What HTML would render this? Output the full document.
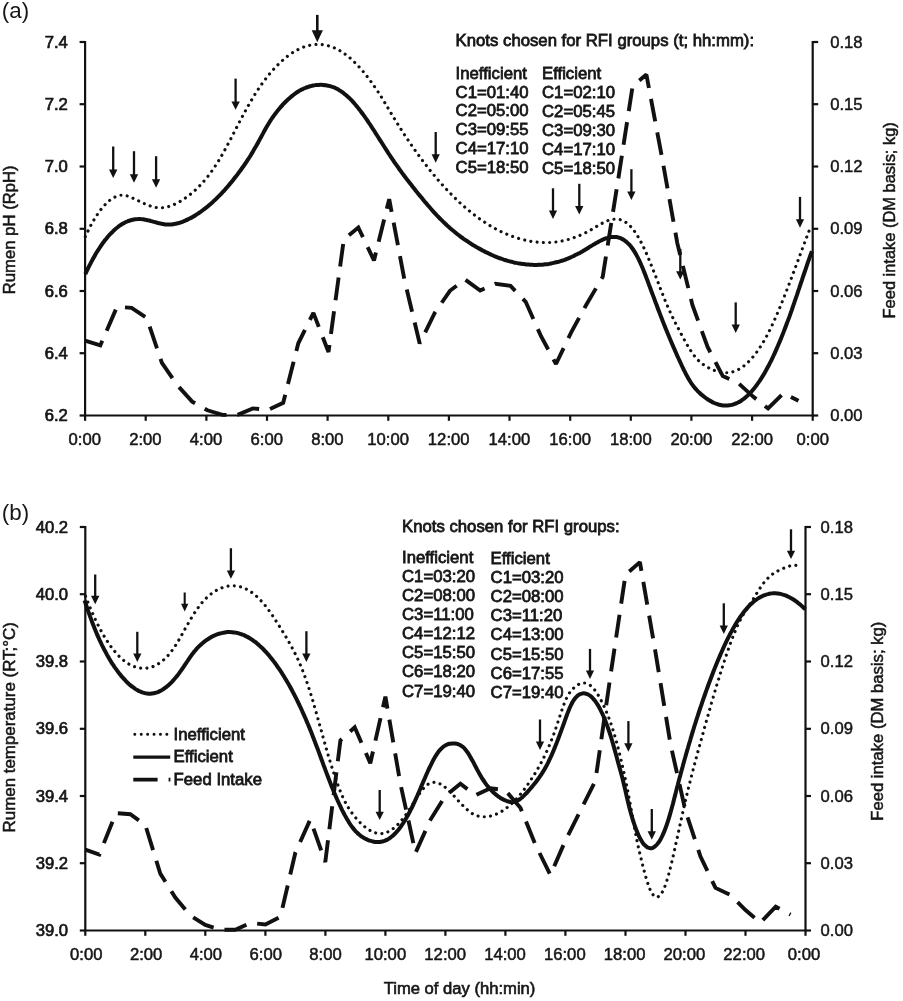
<!DOCTYPE html>
<html lang="en"><head><meta charset="utf-8"><title>Rumen pH and temperature by RFI group</title>
<style>html,body{margin:0;padding:0;background:#fff}svg{display:block;filter:blur(0.35px)}</style></head>
<body>
<svg width="903" height="1001" viewBox="0 0 903 1001">
<rect width="903" height="1001" fill="#fff"/>
<g font-family="'Liberation Sans', Arial, Helvetica, sans-serif" font-size="16" fill="#161616">
<g stroke="#111" stroke-width="2.2" fill="none"><path d="M85.1 40.9 V415.5 H812.7 V40.9"/><path d="M79.6 42.0 H85.1"/><path d="M812.7 42.0 H818.2"/><path d="M79.6 104.2 H85.1"/><path d="M812.7 104.2 H818.2"/><path d="M79.6 166.5 H85.1"/><path d="M812.7 166.5 H818.2"/><path d="M79.6 228.8 H85.1"/><path d="M812.7 228.8 H818.2"/><path d="M79.6 291.0 H85.1"/><path d="M812.7 291.0 H818.2"/><path d="M79.6 353.2 H85.1"/><path d="M812.7 353.2 H818.2"/><path d="M79.6 415.5 H85.1"/><path d="M812.7 415.5 H818.2"/><path d="M85.1 415.5 V420.8"/><path d="M145.7 415.5 V420.8"/><path d="M206.4 415.5 V420.8"/><path d="M267.0 415.5 V420.8"/><path d="M327.6 415.5 V420.8"/><path d="M388.3 415.5 V420.8"/><path d="M448.9 415.5 V420.8"/><path d="M509.5 415.5 V420.8"/><path d="M570.2 415.5 V420.8"/><path d="M630.8 415.5 V420.8"/><path d="M691.4 415.5 V420.8"/><path d="M752.1 415.5 V420.8"/><path d="M812.7 415.5 V420.8"/></g>
<g stroke="#111" stroke-width="2.2" fill="none"><path d="M85.3 525.9 V930.5 H805.5 V525.9"/><path d="M79.8 527.0 H85.3"/><path d="M805.5 527.0 H811.0"/><path d="M79.8 594.2 H85.3"/><path d="M805.5 594.2 H811.0"/><path d="M79.8 661.5 H85.3"/><path d="M805.5 661.5 H811.0"/><path d="M79.8 728.8 H85.3"/><path d="M805.5 728.8 H811.0"/><path d="M79.8 796.0 H85.3"/><path d="M805.5 796.0 H811.0"/><path d="M79.8 863.2 H85.3"/><path d="M805.5 863.2 H811.0"/><path d="M79.8 930.5 H85.3"/><path d="M805.5 930.5 H811.0"/><path d="M85.3 930.5 V935.8"/><path d="M145.3 930.5 V935.8"/><path d="M205.3 930.5 V935.8"/><path d="M265.4 930.5 V935.8"/><path d="M325.4 930.5 V935.8"/><path d="M385.4 930.5 V935.8"/><path d="M445.4 930.5 V935.8"/><path d="M505.4 930.5 V935.8"/><path d="M565.4 930.5 V935.8"/><path d="M625.5 930.5 V935.8"/><path d="M685.5 930.5 V935.8"/><path d="M745.5 930.5 V935.8"/><path d="M805.5 930.5 V935.8"/></g>
<text transform="translate(67.9 47.6) scale(1.055 1)" font-size="15.8" stroke="#161616" stroke-width="0.7" text-anchor="end">7.4</text><text transform="translate(67.9 109.8) scale(1.055 1)" font-size="15.8" stroke="#161616" stroke-width="0.7" text-anchor="end">7.2</text><text transform="translate(67.9 172.1) scale(1.055 1)" font-size="15.8" stroke="#161616" stroke-width="0.7" text-anchor="end">7.0</text><text transform="translate(67.9 234.3) scale(1.055 1)" font-size="15.8" stroke="#161616" stroke-width="0.7" text-anchor="end">6.8</text><text transform="translate(67.9 296.6) scale(1.055 1)" font-size="15.8" stroke="#161616" stroke-width="0.7" text-anchor="end">6.6</text><text transform="translate(67.9 358.9) scale(1.055 1)" font-size="15.8" stroke="#161616" stroke-width="0.7" text-anchor="end">6.4</text><text transform="translate(67.9 421.1) scale(1.055 1)" font-size="15.8" stroke="#161616" stroke-width="0.7" text-anchor="end">6.2</text>
<text transform="translate(68.1 532.6) scale(1.055 1)" font-size="15.8" stroke="#161616" stroke-width="0.65" text-anchor="end">40.2</text><text transform="translate(68.1 599.9) scale(1.055 1)" font-size="15.8" stroke="#161616" stroke-width="0.65" text-anchor="end">40.0</text><text transform="translate(68.1 667.1) scale(1.055 1)" font-size="15.8" stroke="#161616" stroke-width="0.65" text-anchor="end">39.8</text><text transform="translate(68.1 734.4) scale(1.055 1)" font-size="15.8" stroke="#161616" stroke-width="0.65" text-anchor="end">39.6</text><text transform="translate(68.1 801.6) scale(1.055 1)" font-size="15.8" stroke="#161616" stroke-width="0.65" text-anchor="end">39.4</text><text transform="translate(68.1 868.9) scale(1.055 1)" font-size="15.8" stroke="#161616" stroke-width="0.65" text-anchor="end">39.2</text><text transform="translate(68.1 936.1) scale(1.055 1)" font-size="15.8" stroke="#161616" stroke-width="0.65" text-anchor="end">39.0</text>
<text transform="translate(830.2 47.6) scale(1.055 1)" font-size="15.8" stroke="#161616" stroke-width="0.45">0.18</text><text transform="translate(830.2 109.8) scale(1.055 1)" font-size="15.8" stroke="#161616" stroke-width="0.45">0.15</text><text transform="translate(830.2 172.1) scale(1.055 1)" font-size="15.8" stroke="#161616" stroke-width="0.45">0.12</text><text transform="translate(830.2 234.3) scale(1.055 1)" font-size="15.8" stroke="#161616" stroke-width="0.45">0.09</text><text transform="translate(830.2 296.6) scale(1.055 1)" font-size="15.8" stroke="#161616" stroke-width="0.45">0.06</text><text transform="translate(830.2 358.9) scale(1.055 1)" font-size="15.8" stroke="#161616" stroke-width="0.45">0.03</text><text transform="translate(830.2 421.1) scale(1.055 1)" font-size="15.8" stroke="#161616" stroke-width="0.45">0.00</text>
<text transform="translate(820.6 532.6) scale(1.055 1)" font-size="15.8" stroke="#161616" stroke-width="0.45">0.18</text><text transform="translate(820.6 599.9) scale(1.055 1)" font-size="15.8" stroke="#161616" stroke-width="0.45">0.15</text><text transform="translate(820.6 667.1) scale(1.055 1)" font-size="15.8" stroke="#161616" stroke-width="0.45">0.12</text><text transform="translate(820.6 734.4) scale(1.055 1)" font-size="15.8" stroke="#161616" stroke-width="0.45">0.09</text><text transform="translate(820.6 801.6) scale(1.055 1)" font-size="15.8" stroke="#161616" stroke-width="0.45">0.06</text><text transform="translate(820.6 868.9) scale(1.055 1)" font-size="15.8" stroke="#161616" stroke-width="0.45">0.03</text><text transform="translate(820.6 936.1) scale(1.055 1)" font-size="15.8" stroke="#161616" stroke-width="0.45">0.00</text>
<text transform="translate(84.7 445.1) scale(1.055 1)" font-size="15.8" stroke="#161616" stroke-width="0.5" text-anchor="middle">0:00</text><text transform="translate(145.4 445.1) scale(1.055 1)" font-size="15.8" stroke="#161616" stroke-width="0.5" text-anchor="middle">2:00</text><text transform="translate(206.0 445.1) scale(1.055 1)" font-size="15.8" stroke="#161616" stroke-width="0.5" text-anchor="middle">4:00</text><text transform="translate(266.7 445.1) scale(1.055 1)" font-size="15.8" stroke="#161616" stroke-width="0.5" text-anchor="middle">6:00</text><text transform="translate(327.4 445.1) scale(1.055 1)" font-size="15.8" stroke="#161616" stroke-width="0.5" text-anchor="middle">8:00</text><text transform="translate(388.1 445.1) scale(1.055 1)" font-size="15.8" stroke="#161616" stroke-width="0.5" text-anchor="middle">10:00</text><text transform="translate(448.7 445.1) scale(1.055 1)" font-size="15.8" stroke="#161616" stroke-width="0.5" text-anchor="middle">12:00</text><text transform="translate(509.4 445.1) scale(1.055 1)" font-size="15.8" stroke="#161616" stroke-width="0.5" text-anchor="middle">14:00</text><text transform="translate(570.1 445.1) scale(1.055 1)" font-size="15.8" stroke="#161616" stroke-width="0.5" text-anchor="middle">16:00</text><text transform="translate(630.8 445.1) scale(1.055 1)" font-size="15.8" stroke="#161616" stroke-width="0.5" text-anchor="middle">18:00</text><text transform="translate(691.4 445.1) scale(1.055 1)" font-size="15.8" stroke="#161616" stroke-width="0.5" text-anchor="middle">20:00</text><text transform="translate(752.1 445.1) scale(1.055 1)" font-size="15.8" stroke="#161616" stroke-width="0.5" text-anchor="middle">22:00</text><text transform="translate(812.8 445.1) scale(1.055 1)" font-size="15.8" stroke="#161616" stroke-width="0.5" text-anchor="middle">0:00</text>
<text transform="translate(86.3 960.1) scale(1.055 1)" font-size="15.8" stroke="#161616" stroke-width="0.5" text-anchor="middle">0:00</text><text transform="translate(146.1 960.1) scale(1.055 1)" font-size="15.8" stroke="#161616" stroke-width="0.5" text-anchor="middle">2:00</text><text transform="translate(205.9 960.1) scale(1.055 1)" font-size="15.8" stroke="#161616" stroke-width="0.5" text-anchor="middle">4:00</text><text transform="translate(265.7 960.1) scale(1.055 1)" font-size="15.8" stroke="#161616" stroke-width="0.5" text-anchor="middle">6:00</text><text transform="translate(325.5 960.1) scale(1.055 1)" font-size="15.8" stroke="#161616" stroke-width="0.5" text-anchor="middle">8:00</text><text transform="translate(385.3 960.1) scale(1.055 1)" font-size="15.8" stroke="#161616" stroke-width="0.5" text-anchor="middle">10:00</text><text transform="translate(445.2 960.1) scale(1.055 1)" font-size="15.8" stroke="#161616" stroke-width="0.5" text-anchor="middle">12:00</text><text transform="translate(505.0 960.1) scale(1.055 1)" font-size="15.8" stroke="#161616" stroke-width="0.5" text-anchor="middle">14:00</text><text transform="translate(564.8 960.1) scale(1.055 1)" font-size="15.8" stroke="#161616" stroke-width="0.5" text-anchor="middle">16:00</text><text transform="translate(624.6 960.1) scale(1.055 1)" font-size="15.8" stroke="#161616" stroke-width="0.5" text-anchor="middle">18:00</text><text transform="translate(684.4 960.1) scale(1.055 1)" font-size="15.8" stroke="#161616" stroke-width="0.5" text-anchor="middle">20:00</text><text transform="translate(744.2 960.1) scale(1.055 1)" font-size="15.8" stroke="#161616" stroke-width="0.5" text-anchor="middle">22:00</text><text transform="translate(804.0 960.1) scale(1.055 1)" font-size="15.8" stroke="#161616" stroke-width="0.5" text-anchor="middle">0:00</text>
<path d="M85.1 340.6 L100.3 345.4 L117.0 306.8 L131.6 307.8 L146.7 317.8 L161.9 362.8 L177.1 385.0 L192.2 401.6 L207.4 410.3 L222.5 414.9 L237.7 414.9 L252.8 408.4 L268.0 409.9 L283.2 402.8 L298.3 343.3 L313.4 312.9 L328.5 352.0 L343.8 239.5 L358.3 227.5 L374.0 260.5 L389.2 199.1 L404.4 279.6 L419.7 343.5 L434.7 313.0 L449.9 290.8 L465.1 279.5 L480.2 290.5 L495.4 283.7 L510.5 285.8 L525.7 301.8 L540.9 336.0 L556.0 364.0 L571.2 332.3 L586.3 304.7 L602.7 276.9 L618.1 180.0 L632.6 86.2 L646.4 74.6 L662.1 158.0 L677.3 243.1 L692.4 304.9 L707.6 347.0 L722.8 376.1 L737.9 382.7 L753.1 396.6 L768.1 408.5 L783.6 393.2 L798.5 400.8" fill="none" stroke="#111" stroke-width="3.9" stroke-dasharray="22.9 11.1" stroke-dashoffset="2.0" stroke-linecap="butt" stroke-linejoin="miter" stroke-miterlimit="1.9"/><path d="M85.3 236.7 C85.7 235.8 87.0 233.1 87.8 231.4 C88.6 229.7 89.5 228.0 90.3 226.4 C91.1 224.8 92.0 223.3 92.8 221.8 C93.6 220.4 94.5 219.0 95.3 217.6 C96.1 216.3 97.0 215.0 97.8 213.8 C98.6 212.6 99.5 211.4 100.3 210.3 C101.1 209.2 102.0 208.2 102.8 207.2 C103.7 206.2 104.5 205.3 105.3 204.4 C106.2 203.5 107.0 202.7 107.8 202.0 C108.7 201.2 109.5 200.5 110.3 199.9 C111.2 199.3 112.0 198.7 112.8 198.2 C113.7 197.7 114.5 197.2 115.3 196.9 C116.2 196.5 117.0 196.2 117.8 195.9 C118.7 195.6 119.5 195.5 120.3 195.3 C121.2 195.2 122.0 195.2 122.8 195.2 C123.7 195.2 124.5 195.3 125.3 195.5 C126.2 195.6 127.0 195.9 127.8 196.1 C128.7 196.4 129.5 196.7 130.3 197.1 C131.2 197.4 132.0 197.8 132.8 198.2 C133.7 198.5 134.5 199.0 135.3 199.4 C136.2 199.8 137.0 200.2 137.9 200.6 C138.7 201.0 139.5 201.4 140.4 201.8 C141.2 202.2 142.0 202.6 142.9 203.0 C143.7 203.4 144.5 203.7 145.4 204.1 C146.2 204.5 147.0 204.8 147.9 205.1 C148.7 205.4 149.5 205.8 150.4 206.0 C151.2 206.3 152.0 206.6 152.9 206.8 C153.7 207.0 154.5 207.2 155.4 207.4 C156.2 207.5 157.0 207.7 157.9 207.7 C158.7 207.8 159.5 207.9 160.4 207.9 C161.2 207.9 162.0 207.8 162.9 207.7 C163.7 207.7 164.5 207.5 165.4 207.4 C166.2 207.2 167.0 207.0 167.9 206.8 C168.7 206.5 169.5 206.3 170.4 206.0 C171.2 205.7 172.1 205.4 172.9 205.0 C173.7 204.7 174.6 204.3 175.4 203.9 C176.2 203.5 177.1 203.0 177.9 202.6 C178.7 202.1 179.6 201.7 180.4 201.2 C181.2 200.7 182.1 200.2 182.9 199.7 C183.7 199.1 184.6 198.6 185.4 198.0 C186.2 197.4 187.1 196.8 187.9 196.2 C188.7 195.6 189.6 195.0 190.4 194.3 C191.2 193.6 192.1 192.9 192.9 192.2 C193.7 191.5 194.6 190.8 195.4 190.0 C196.2 189.2 197.1 188.4 197.9 187.6 C198.7 186.8 199.6 185.9 200.4 185.1 C201.2 184.2 202.1 183.3 202.9 182.3 C203.7 181.4 204.6 180.4 205.4 179.4 C206.2 178.4 207.1 177.4 207.9 176.3 C208.8 175.3 209.6 174.2 210.4 173.0 C211.3 171.9 212.1 170.7 212.9 169.5 C213.8 168.3 214.6 167.1 215.4 165.8 C216.3 164.5 217.1 163.2 217.9 161.9 C218.8 160.5 219.6 159.1 220.4 157.7 C221.3 156.3 222.1 154.9 222.9 153.4 C223.8 151.9 224.6 150.4 225.4 148.9 C226.3 147.3 227.1 145.8 227.9 144.2 C228.8 142.6 229.6 141.1 230.4 139.5 C231.3 137.9 232.1 136.3 232.9 134.6 C233.8 133.0 234.6 131.4 235.4 129.8 C236.3 128.2 237.1 126.5 237.9 124.9 C238.8 123.3 239.6 121.7 240.4 120.1 C241.3 118.5 242.1 116.9 243.0 115.3 C243.8 113.8 244.6 112.2 245.5 110.7 C246.3 109.2 247.1 107.6 248.0 106.2 C248.8 104.7 249.6 103.2 250.5 101.8 C251.3 100.4 252.1 99.0 253.0 97.6 C253.8 96.2 254.6 94.9 255.5 93.6 C256.3 92.2 257.1 91.0 258.0 89.7 C258.8 88.4 259.6 87.2 260.5 86.0 C261.3 84.8 262.1 83.6 263.0 82.5 C263.8 81.3 264.6 80.2 265.5 79.1 C266.3 78.0 267.1 76.9 268.0 75.9 C268.8 74.9 269.6 73.8 270.5 72.8 C271.3 71.9 272.1 70.9 273.0 70.0 C273.8 69.0 274.6 68.1 275.5 67.2 C276.3 66.3 277.2 65.5 278.0 64.7 C278.8 63.8 279.7 63.0 280.5 62.2 C281.3 61.5 282.2 60.7 283.0 60.0 C283.8 59.2 284.7 58.5 285.5 57.8 C286.3 57.2 287.2 56.5 288.0 55.9 C288.8 55.2 289.7 54.6 290.5 54.1 C291.3 53.5 292.2 52.9 293.0 52.4 C293.8 51.9 294.7 51.4 295.5 50.9 C296.3 50.4 297.2 50.0 298.0 49.5 C298.8 49.1 299.7 48.7 300.5 48.3 C301.3 48.0 302.2 47.6 303.0 47.3 C303.8 47.0 304.7 46.7 305.5 46.4 C306.3 46.1 307.2 45.9 308.0 45.7 C308.8 45.5 309.7 45.3 310.5 45.1 C311.4 44.9 312.2 44.8 313.0 44.7 C313.9 44.6 314.7 44.5 315.5 44.4 C316.4 44.4 317.2 44.4 318.0 44.4 C318.9 44.4 319.7 44.4 320.5 44.4 C321.4 44.5 322.2 44.6 323.0 44.7 C323.9 44.8 324.7 44.9 325.5 45.1 C326.4 45.3 327.2 45.5 328.0 45.7 C328.9 45.9 329.7 46.1 330.5 46.4 C331.4 46.7 332.2 47.0 333.0 47.3 C333.9 47.7 334.7 48.0 335.5 48.4 C336.4 48.8 337.2 49.2 338.0 49.7 C338.9 50.1 339.7 50.6 340.5 51.1 C341.4 51.6 342.2 52.1 343.0 52.7 C343.9 53.3 344.7 53.9 345.6 54.5 C346.4 55.1 347.2 55.7 348.1 56.4 C348.9 57.1 349.7 57.8 350.6 58.5 C351.4 59.3 352.2 60.0 353.1 60.8 C353.9 61.6 354.7 62.4 355.6 63.2 C356.4 64.1 357.2 64.9 358.1 65.8 C358.9 66.7 359.7 67.6 360.6 68.6 C361.4 69.5 362.2 70.5 363.1 71.5 C363.9 72.5 364.7 73.5 365.6 74.5 C366.4 75.6 367.2 76.6 368.1 77.7 C368.9 78.8 369.7 79.9 370.6 81.1 C371.4 82.2 372.2 83.4 373.1 84.5 C373.9 85.7 374.7 86.9 375.6 88.2 C376.4 89.4 377.2 90.7 378.1 91.9 C378.9 93.2 379.8 94.5 380.6 95.8 C381.4 97.1 382.3 98.5 383.1 99.8 C383.9 101.2 384.8 102.6 385.6 104.0 C386.4 105.4 387.3 106.8 388.1 108.2 C388.9 109.6 389.8 111.0 390.6 112.4 C391.4 113.8 392.3 115.2 393.1 116.6 C393.9 118.0 394.8 119.3 395.6 120.7 C396.4 122.0 397.3 123.4 398.1 124.7 C398.9 126.1 399.8 127.4 400.6 128.7 C401.4 130.0 402.3 131.3 403.1 132.6 C403.9 133.9 404.8 135.2 405.6 136.4 C406.4 137.7 407.3 139.0 408.1 140.2 C408.9 141.4 409.8 142.7 410.6 143.9 C411.4 145.1 412.3 146.3 413.1 147.5 C414.0 148.7 414.8 149.9 415.6 151.1 C416.5 152.3 417.3 153.4 418.1 154.6 C419.0 155.7 419.8 156.9 420.6 158.0 C421.5 159.1 422.3 160.3 423.1 161.4 C424.0 162.5 424.8 163.6 425.6 164.6 C426.5 165.7 427.3 166.8 428.1 167.9 C429.0 168.9 429.8 170.0 430.6 171.0 C431.5 172.1 432.3 173.1 433.1 174.1 C434.0 175.1 434.8 176.1 435.6 177.1 C436.5 178.1 437.3 179.1 438.1 180.0 C439.0 181.0 439.8 182.0 440.6 182.9 C441.5 183.9 442.3 184.8 443.1 185.7 C444.0 186.6 444.8 187.6 445.6 188.4 C446.5 189.3 447.3 190.2 448.2 191.1 C449.0 192.0 449.8 192.9 450.7 193.7 C451.5 194.6 452.3 195.4 453.2 196.2 C454.0 197.1 454.8 197.9 455.7 198.7 C456.5 199.5 457.3 200.3 458.2 201.1 C459.0 201.9 459.8 202.7 460.7 203.4 C461.5 204.2 462.3 204.9 463.2 205.7 C464.0 206.4 464.8 207.1 465.7 207.9 C466.5 208.6 467.3 209.3 468.2 210.0 C469.0 210.7 469.8 211.4 470.7 212.0 C471.5 212.7 472.3 213.4 473.2 214.0 C474.0 214.7 474.8 215.3 475.7 215.9 C476.5 216.6 477.3 217.2 478.2 217.8 C479.0 218.4 479.8 219.0 480.7 219.6 C481.5 220.1 482.3 220.7 483.2 221.3 C484.0 221.8 484.9 222.4 485.7 222.9 C486.5 223.5 487.4 224.0 488.2 224.5 C489.0 225.0 489.9 225.5 490.7 226.0 C491.5 226.5 492.4 227.0 493.2 227.5 C494.0 228.0 494.9 228.4 495.7 228.9 C496.5 229.3 497.4 229.7 498.2 230.2 C499.0 230.6 499.9 231.0 500.7 231.4 C501.5 231.8 502.4 232.2 503.2 232.6 C504.0 233.0 504.9 233.4 505.7 233.7 C506.5 234.1 507.4 234.4 508.2 234.8 C509.0 235.1 509.9 235.5 510.7 235.8 C511.5 236.1 512.4 236.4 513.2 236.7 C514.0 237.0 514.9 237.3 515.7 237.5 C516.5 237.8 517.4 238.1 518.2 238.3 C519.1 238.6 519.9 238.8 520.7 239.1 C521.6 239.3 522.4 239.5 523.2 239.7 C524.1 239.9 524.9 240.1 525.7 240.3 C526.6 240.5 527.4 240.7 528.2 240.8 C529.1 241.0 529.9 241.2 530.7 241.3 C531.6 241.4 532.4 241.6 533.2 241.7 C534.1 241.8 534.9 241.9 535.7 242.0 C536.6 242.1 537.4 242.2 538.2 242.3 C539.1 242.3 539.9 242.4 540.7 242.4 C541.6 242.5 542.4 242.5 543.2 242.5 C544.1 242.6 544.9 242.6 545.7 242.6 C546.6 242.6 547.4 242.6 548.2 242.5 C549.1 242.5 549.9 242.5 550.7 242.4 C551.6 242.4 552.4 242.3 553.3 242.2 C554.1 242.2 554.9 242.1 555.8 242.0 C556.6 241.9 557.4 241.8 558.3 241.6 C559.1 241.5 559.9 241.4 560.8 241.2 C561.6 241.1 562.4 240.9 563.3 240.7 C564.1 240.5 564.9 240.3 565.8 240.1 C566.6 239.9 567.4 239.7 568.3 239.5 C569.1 239.2 569.9 239.0 570.8 238.7 C571.6 238.5 572.4 238.2 573.3 237.9 C574.1 237.6 574.9 237.3 575.8 237.0 C576.6 236.7 577.4 236.4 578.3 236.0 C579.1 235.7 579.9 235.3 580.8 235.0 C581.6 234.6 582.4 234.2 583.3 233.8 C584.1 233.4 584.9 233.0 585.8 232.6 C586.6 232.2 587.5 231.7 588.3 231.3 C589.1 230.8 590.0 230.3 590.8 229.9 C591.6 229.4 592.5 228.9 593.3 228.4 C594.1 227.9 595.0 227.4 595.8 226.9 C596.6 226.4 597.5 225.9 598.3 225.4 C599.1 224.9 600.0 224.5 600.8 224.0 C601.6 223.5 602.5 223.1 603.3 222.7 C604.1 222.3 605.0 221.9 605.8 221.5 C606.6 221.2 607.5 220.8 608.3 220.5 C609.1 220.2 610.0 220.0 610.8 219.8 C611.6 219.6 612.5 219.4 613.3 219.3 C614.1 219.2 615.0 219.1 615.8 219.1 C616.6 219.1 617.5 219.1 618.3 219.3 C619.1 219.4 620.0 219.6 620.8 219.8 C621.7 220.1 622.5 220.4 623.3 220.8 C624.2 221.2 625.0 221.7 625.8 222.3 C626.7 222.9 627.5 223.5 628.3 224.3 C629.2 225.0 630.0 225.8 630.8 226.7 C631.7 227.7 632.5 228.7 633.3 229.7 C634.2 230.8 635.0 232.0 635.8 233.2 C636.7 234.5 637.5 235.8 638.3 237.2 C639.2 238.6 640.0 240.1 640.8 241.7 C641.7 243.3 642.5 245.0 643.3 246.7 C644.2 248.4 645.0 250.3 645.8 252.1 C646.7 254.0 647.5 256.0 648.3 258.0 C649.2 259.9 650.0 262.0 650.8 264.1 C651.7 266.1 652.5 268.3 653.3 270.4 C654.2 272.5 655.0 274.7 655.9 276.8 C656.7 279.0 657.5 281.2 658.4 283.3 C659.2 285.5 660.0 287.6 660.9 289.8 C661.7 291.9 662.5 294.0 663.4 296.1 C664.2 298.1 665.0 300.2 665.9 302.2 C666.7 304.2 667.5 306.1 668.4 308.0 C669.2 309.9 670.0 311.7 670.9 313.5 C671.7 315.3 672.5 317.1 673.4 318.8 C674.2 320.5 675.0 322.2 675.9 323.8 C676.7 325.5 677.5 327.1 678.4 328.7 C679.2 330.3 680.0 331.8 680.9 333.4 C681.7 334.9 682.5 336.5 683.4 338.0 C684.2 339.5 685.0 341.1 685.9 342.5 C686.7 344.0 687.5 345.5 688.4 346.9 C689.2 348.3 690.1 349.7 690.9 351.0 C691.7 352.2 692.6 353.4 693.4 354.6 C694.2 355.7 695.1 356.7 695.9 357.7 C696.7 358.7 697.6 359.6 698.4 360.4 C699.2 361.2 700.1 362.0 700.9 362.7 C701.7 363.4 702.6 364.0 703.4 364.6 C704.2 365.2 705.1 365.7 705.9 366.3 C706.7 366.8 707.6 367.2 708.4 367.7 C709.2 368.1 710.1 368.6 710.9 369.0 C711.7 369.4 712.6 369.7 713.4 370.1 C714.2 370.4 715.1 370.7 715.9 371.0 C716.7 371.3 717.6 371.6 718.4 371.8 C719.2 372.0 720.1 372.2 720.9 372.3 C721.7 372.5 722.6 372.6 723.4 372.7 C724.2 372.8 725.1 372.8 725.9 372.8 C726.8 372.8 727.6 372.7 728.4 372.7 C729.3 372.6 730.1 372.4 730.9 372.3 C731.8 372.1 732.6 371.9 733.4 371.6 C734.3 371.3 735.1 371.0 735.9 370.7 C736.8 370.3 737.6 369.9 738.4 369.5 C739.3 369.0 740.1 368.5 740.9 368.0 C741.8 367.5 742.6 366.9 743.4 366.3 C744.3 365.6 745.1 365.0 745.9 364.2 C746.8 363.5 747.6 362.7 748.4 361.9 C749.3 361.1 750.1 360.2 750.9 359.3 C751.8 358.4 752.6 357.4 753.4 356.4 C754.3 355.4 755.1 354.3 755.9 353.2 C756.8 352.1 757.6 350.9 758.4 349.7 C759.3 348.5 760.1 347.2 761.0 345.9 C761.8 344.6 762.6 343.2 763.5 341.8 C764.3 340.4 765.1 338.9 766.0 337.4 C766.8 335.8 767.6 334.2 768.5 332.6 C769.3 331.0 770.1 329.3 771.0 327.6 C771.8 325.8 772.6 324.0 773.5 322.2 C774.3 320.4 775.1 318.5 776.0 316.6 C776.8 314.7 777.6 312.8 778.5 310.8 C779.3 308.8 780.1 306.8 781.0 304.8 C781.8 302.8 782.6 300.7 783.5 298.6 C784.3 296.5 785.1 294.4 786.0 292.2 C786.8 290.1 787.6 287.9 788.5 285.8 C789.3 283.6 790.1 281.4 791.0 279.2 C791.8 277.0 792.6 274.8 793.5 272.5 C794.3 270.3 795.2 268.1 796.0 265.8 C796.8 263.6 797.7 261.3 798.5 259.1 C799.3 256.9 800.2 254.6 801.0 252.4 C801.8 250.1 802.7 247.9 803.5 245.7 C804.3 243.4 805.2 241.2 806.0 239.0 C806.8 236.8 807.7 234.6 808.5 232.4 C809.3 230.3 810.6 227.1 811.0 226.0" fill="none" stroke="#111" stroke-width="3.15" stroke-dasharray="0.01 6.28" stroke-linecap="round"/><path d="M85.3 274.1 C85.7 273.2 87.0 270.5 87.8 268.8 C88.6 267.1 89.5 265.4 90.3 263.8 C91.1 262.2 92.0 260.7 92.8 259.1 C93.7 257.6 94.5 256.2 95.3 254.7 C96.2 253.3 97.0 251.9 97.8 250.6 C98.7 249.3 99.5 248.0 100.3 246.7 C101.2 245.5 102.0 244.3 102.8 243.1 C103.7 242.0 104.5 240.9 105.3 239.8 C106.2 238.8 107.0 237.7 107.8 236.8 C108.7 235.8 109.5 234.8 110.4 233.9 C111.2 233.1 112.0 232.2 112.9 231.4 C113.7 230.6 114.5 229.8 115.4 229.1 C116.2 228.4 117.0 227.7 117.9 227.0 C118.7 226.4 119.5 225.8 120.4 225.2 C121.2 224.7 122.0 224.1 122.9 223.7 C123.7 223.2 124.6 222.7 125.4 222.3 C126.2 221.9 127.1 221.6 127.9 221.2 C128.7 220.9 129.6 220.6 130.4 220.3 C131.2 220.1 132.1 219.9 132.9 219.7 C133.7 219.5 134.6 219.4 135.4 219.3 C136.2 219.2 137.1 219.1 137.9 219.1 C138.8 219.0 139.6 219.0 140.4 219.1 C141.3 219.1 142.1 219.2 142.9 219.3 C143.8 219.4 144.6 219.5 145.4 219.7 C146.3 219.8 147.1 220.0 147.9 220.2 C148.8 220.4 149.6 220.6 150.4 220.8 C151.3 221.1 152.1 221.3 152.9 221.6 C153.8 221.8 154.6 222.0 155.5 222.3 C156.3 222.5 157.1 222.7 158.0 223.0 C158.8 223.2 159.6 223.4 160.5 223.6 C161.3 223.7 162.1 223.9 163.0 224.0 C163.8 224.2 164.6 224.3 165.5 224.4 C166.3 224.4 167.1 224.5 168.0 224.5 C168.8 224.5 169.7 224.5 170.5 224.4 C171.3 224.4 172.2 224.3 173.0 224.2 C173.8 224.1 174.7 223.9 175.5 223.8 C176.3 223.6 177.2 223.4 178.0 223.2 C178.8 223.0 179.7 222.7 180.5 222.5 C181.3 222.2 182.2 221.9 183.0 221.6 C183.9 221.3 184.7 220.9 185.5 220.5 C186.4 220.2 187.2 219.8 188.0 219.4 C188.9 219.0 189.7 218.5 190.5 218.1 C191.4 217.7 192.2 217.2 193.0 216.7 C193.9 216.2 194.7 215.7 195.5 215.2 C196.4 214.7 197.2 214.1 198.0 213.6 C198.9 213.0 199.7 212.5 200.6 211.9 C201.4 211.3 202.2 210.7 203.1 210.0 C203.9 209.4 204.7 208.8 205.6 208.1 C206.4 207.5 207.2 206.8 208.1 206.1 C208.9 205.4 209.7 204.7 210.6 203.9 C211.4 203.2 212.2 202.5 213.1 201.7 C213.9 200.9 214.8 200.2 215.6 199.4 C216.4 198.6 217.3 197.7 218.1 196.9 C218.9 196.1 219.8 195.2 220.6 194.4 C221.4 193.5 222.3 192.6 223.1 191.7 C223.9 190.8 224.8 189.9 225.6 188.9 C226.4 188.0 227.3 187.0 228.1 186.1 C228.9 185.1 229.8 184.1 230.6 183.1 C231.5 182.1 232.3 181.1 233.1 180.0 C234.0 179.0 234.8 177.9 235.6 176.8 C236.5 175.8 237.3 174.7 238.1 173.6 C239.0 172.5 239.8 171.3 240.6 170.2 C241.5 169.0 242.3 167.9 243.1 166.7 C244.0 165.5 244.8 164.2 245.7 163.0 C246.5 161.8 247.3 160.5 248.2 159.2 C249.0 157.9 249.8 156.6 250.7 155.3 C251.5 153.9 252.3 152.5 253.2 151.1 C254.0 149.7 254.8 148.3 255.7 146.8 C256.5 145.4 257.3 143.9 258.2 142.4 C259.0 140.8 259.9 139.3 260.7 137.7 C261.5 136.2 262.4 134.6 263.2 133.1 C264.0 131.5 264.9 130.0 265.7 128.5 C266.5 127.1 267.4 125.6 268.2 124.3 C269.0 122.9 269.9 121.6 270.7 120.3 C271.5 119.0 272.4 117.8 273.2 116.6 C274.0 115.4 274.9 114.3 275.7 113.2 C276.6 112.1 277.4 111.0 278.2 110.0 C279.1 109.0 279.9 108.0 280.7 107.0 C281.6 106.1 282.4 105.1 283.2 104.2 C284.1 103.3 284.9 102.5 285.7 101.6 C286.6 100.8 287.4 100.0 288.2 99.3 C289.1 98.5 289.9 97.8 290.8 97.0 C291.6 96.3 292.4 95.7 293.3 95.0 C294.1 94.4 294.9 93.8 295.8 93.2 C296.6 92.6 297.4 92.1 298.3 91.6 C299.1 91.0 299.9 90.6 300.8 90.1 C301.6 89.7 302.4 89.2 303.3 88.8 C304.1 88.4 305.0 88.1 305.8 87.7 C306.6 87.4 307.5 87.1 308.3 86.8 C309.1 86.5 310.0 86.3 310.8 86.1 C311.6 85.9 312.5 85.7 313.3 85.5 C314.1 85.3 315.0 85.2 315.8 85.1 C316.6 85.0 317.5 84.9 318.3 84.9 C319.1 84.8 320.0 84.8 320.8 84.8 C321.7 84.8 322.5 84.8 323.3 84.9 C324.2 85.0 325.0 85.1 325.8 85.2 C326.7 85.3 327.5 85.5 328.3 85.7 C329.2 85.8 330.0 86.1 330.8 86.3 C331.7 86.6 332.5 86.9 333.3 87.2 C334.2 87.5 335.0 87.9 335.9 88.3 C336.7 88.7 337.5 89.1 338.4 89.6 C339.2 90.1 340.0 90.6 340.9 91.2 C341.7 91.7 342.5 92.3 343.4 92.9 C344.2 93.6 345.0 94.3 345.9 95.0 C346.7 95.7 347.5 96.4 348.4 97.2 C349.2 98.0 350.0 98.8 350.9 99.7 C351.7 100.5 352.6 101.4 353.4 102.3 C354.2 103.3 355.1 104.2 355.9 105.2 C356.7 106.2 357.6 107.2 358.4 108.2 C359.2 109.3 360.1 110.4 360.9 111.5 C361.7 112.6 362.6 113.7 363.4 114.9 C364.2 116.0 365.1 117.2 365.9 118.4 C366.8 119.6 367.6 120.8 368.4 122.1 C369.3 123.3 370.1 124.6 370.9 125.8 C371.8 127.1 372.6 128.4 373.4 129.7 C374.3 131.0 375.1 132.3 375.9 133.6 C376.8 134.9 377.6 136.2 378.4 137.5 C379.3 138.9 380.1 140.2 381.0 141.5 C381.8 142.8 382.6 144.1 383.5 145.5 C384.3 146.8 385.1 148.1 386.0 149.4 C386.8 150.7 387.6 152.0 388.5 153.3 C389.3 154.5 390.1 155.8 391.0 157.1 C391.8 158.3 392.6 159.6 393.5 160.8 C394.3 162.0 395.1 163.2 396.0 164.4 C396.8 165.6 397.7 166.8 398.5 168.0 C399.3 169.1 400.2 170.3 401.0 171.4 C401.8 172.6 402.7 173.7 403.5 174.8 C404.3 175.9 405.2 177.0 406.0 178.1 C406.8 179.2 407.7 180.3 408.5 181.4 C409.3 182.5 410.2 183.6 411.0 184.6 C411.9 185.7 412.7 186.8 413.5 187.8 C414.4 188.9 415.2 189.9 416.0 191.0 C416.9 192.0 417.7 193.0 418.5 194.1 C419.4 195.1 420.2 196.1 421.0 197.1 C421.9 198.2 422.7 199.2 423.5 200.2 C424.4 201.2 425.2 202.2 426.1 203.2 C426.9 204.1 427.7 205.1 428.6 206.1 C429.4 207.1 430.2 208.0 431.1 209.0 C431.9 209.9 432.7 210.8 433.6 211.8 C434.4 212.7 435.2 213.6 436.1 214.5 C436.9 215.4 437.7 216.3 438.6 217.1 C439.4 218.0 440.2 218.8 441.1 219.7 C441.9 220.5 442.8 221.3 443.6 222.1 C444.4 222.9 445.3 223.7 446.1 224.5 C446.9 225.3 447.8 226.0 448.6 226.8 C449.4 227.5 450.3 228.3 451.1 229.0 C451.9 229.7 452.8 230.4 453.6 231.1 C454.4 231.8 455.3 232.5 456.1 233.1 C457.0 233.8 457.8 234.4 458.6 235.1 C459.5 235.7 460.3 236.4 461.1 237.0 C462.0 237.6 462.8 238.2 463.6 238.8 C464.5 239.4 465.3 240.0 466.1 240.5 C467.0 241.1 467.8 241.7 468.6 242.2 C469.5 242.8 470.3 243.3 471.1 243.8 C472.0 244.4 472.8 244.9 473.7 245.4 C474.5 245.9 475.3 246.4 476.2 246.9 C477.0 247.4 477.8 247.9 478.7 248.3 C479.5 248.8 480.3 249.3 481.2 249.7 C482.0 250.2 482.8 250.6 483.7 251.0 C484.5 251.5 485.3 251.9 486.2 252.3 C487.0 252.7 487.9 253.1 488.7 253.5 C489.5 253.9 490.4 254.3 491.2 254.7 C492.0 255.1 492.9 255.4 493.7 255.8 C494.5 256.1 495.4 256.5 496.2 256.8 C497.0 257.1 497.9 257.5 498.7 257.8 C499.5 258.1 500.4 258.4 501.2 258.7 C502.1 259.0 502.9 259.3 503.7 259.6 C504.6 259.8 505.4 260.1 506.2 260.3 C507.1 260.6 507.9 260.8 508.7 261.1 C509.6 261.3 510.4 261.5 511.2 261.7 C512.1 262.0 512.9 262.2 513.7 262.4 C514.6 262.5 515.4 262.7 516.2 262.9 C517.1 263.1 517.9 263.2 518.8 263.4 C519.6 263.5 520.4 263.7 521.3 263.8 C522.1 263.9 522.9 264.0 523.8 264.1 C524.6 264.2 525.4 264.3 526.3 264.4 C527.1 264.5 527.9 264.6 528.8 264.6 C529.6 264.7 530.4 264.8 531.3 264.8 C532.1 264.8 533.0 264.9 533.8 264.9 C534.6 264.9 535.5 264.9 536.3 264.9 C537.1 264.9 538.0 264.9 538.8 264.8 C539.6 264.8 540.5 264.8 541.3 264.7 C542.1 264.7 543.0 264.6 543.8 264.5 C544.6 264.4 545.5 264.3 546.3 264.2 C547.2 264.1 548.0 264.0 548.8 263.9 C549.7 263.7 550.5 263.6 551.3 263.4 C552.2 263.3 553.0 263.1 553.8 262.9 C554.7 262.7 555.5 262.5 556.3 262.3 C557.2 262.1 558.0 261.9 558.8 261.7 C559.7 261.4 560.5 261.2 561.3 260.9 C562.2 260.6 563.0 260.4 563.9 260.1 C564.7 259.8 565.5 259.5 566.4 259.1 C567.2 258.8 568.0 258.5 568.9 258.1 C569.7 257.8 570.5 257.4 571.4 257.0 C572.2 256.7 573.0 256.3 573.9 255.9 C574.7 255.5 575.5 255.1 576.4 254.6 C577.2 254.2 578.1 253.8 578.9 253.3 C579.7 252.9 580.6 252.4 581.4 252.0 C582.2 251.5 583.1 251.0 583.9 250.5 C584.7 250.0 585.6 249.5 586.4 249.0 C587.2 248.5 588.1 248.0 588.9 247.5 C589.7 246.9 590.6 246.4 591.4 245.9 C592.2 245.4 593.1 244.9 593.9 244.4 C594.8 243.9 595.6 243.4 596.4 242.9 C597.3 242.4 598.1 242.0 598.9 241.5 C599.8 241.1 600.6 240.7 601.4 240.3 C602.3 239.9 603.1 239.5 603.9 239.2 C604.8 238.8 605.6 238.5 606.4 238.2 C607.3 238.0 608.1 237.7 609.0 237.5 C609.8 237.3 610.6 237.2 611.5 237.1 C612.3 237.0 613.1 236.9 614.0 236.9 C614.8 236.9 615.6 237.0 616.5 237.1 C617.3 237.2 618.1 237.4 619.0 237.6 C619.8 237.9 620.6 238.2 621.5 238.6 C622.3 239.0 623.2 239.5 624.0 240.0 C624.8 240.6 625.7 241.2 626.5 241.9 C627.3 242.6 628.2 243.4 629.0 244.3 C629.8 245.2 630.7 246.2 631.5 247.3 C632.3 248.4 633.2 249.6 634.0 250.9 C634.8 252.2 635.7 253.6 636.5 255.1 C637.3 256.6 638.2 258.3 639.0 260.0 C639.9 261.7 640.7 263.6 641.5 265.5 C642.4 267.5 643.2 269.5 644.0 271.6 C644.9 273.7 645.7 275.8 646.5 278.0 C647.4 280.2 648.2 282.5 649.0 284.7 C649.9 287.0 650.7 289.3 651.5 291.5 C652.4 293.8 653.2 296.1 654.1 298.3 C654.9 300.6 655.7 302.8 656.6 305.0 C657.4 307.3 658.2 309.5 659.1 311.6 C659.9 313.8 660.7 316.0 661.6 318.1 C662.4 320.3 663.2 322.4 664.1 324.5 C664.9 326.6 665.7 328.7 666.6 330.8 C667.4 332.8 668.3 334.8 669.1 336.8 C669.9 338.8 670.8 340.8 671.6 342.8 C672.4 344.7 673.3 346.6 674.1 348.6 C674.9 350.5 675.8 352.3 676.6 354.2 C677.4 356.1 678.3 357.9 679.1 359.8 C679.9 361.6 680.8 363.4 681.6 365.2 C682.4 367.0 683.3 368.7 684.1 370.4 C685.0 372.1 685.8 373.7 686.6 375.3 C687.5 376.8 688.3 378.3 689.1 379.7 C690.0 381.1 690.8 382.4 691.6 383.6 C692.5 384.8 693.3 385.9 694.1 387.0 C695.0 388.0 695.8 389.0 696.6 389.9 C697.5 390.8 698.3 391.7 699.2 392.5 C700.0 393.3 700.8 394.1 701.7 394.8 C702.5 395.5 703.3 396.2 704.2 396.8 C705.0 397.5 705.8 398.1 706.7 398.7 C707.5 399.3 708.3 399.8 709.2 400.3 C710.0 400.8 710.8 401.3 711.7 401.7 C712.5 402.2 713.3 402.6 714.2 403.0 C715.0 403.3 715.9 403.7 716.7 403.9 C717.5 404.2 718.4 404.5 719.2 404.7 C720.0 404.9 720.9 405.1 721.7 405.2 C722.5 405.4 723.4 405.5 724.2 405.5 C725.0 405.6 725.9 405.6 726.7 405.5 C727.5 405.5 728.4 405.4 729.2 405.3 C730.1 405.2 730.9 405.1 731.7 404.9 C732.6 404.7 733.4 404.4 734.2 404.1 C735.1 403.8 735.9 403.5 736.7 403.1 C737.6 402.8 738.4 402.3 739.2 401.9 C740.1 401.4 740.9 400.9 741.7 400.3 C742.6 399.7 743.4 399.1 744.3 398.5 C745.1 397.8 745.9 397.1 746.8 396.3 C747.6 395.6 748.4 394.8 749.3 393.9 C750.1 393.1 750.9 392.2 751.8 391.2 C752.6 390.3 753.4 389.3 754.3 388.2 C755.1 387.2 755.9 386.1 756.8 385.0 C757.6 383.8 758.4 382.6 759.3 381.4 C760.1 380.2 761.0 378.9 761.8 377.5 C762.6 376.2 763.5 374.8 764.3 373.4 C765.1 372.0 766.0 370.5 766.8 369.0 C767.6 367.5 768.5 365.9 769.3 364.3 C770.1 362.7 771.0 361.0 771.8 359.3 C772.6 357.6 773.5 355.8 774.3 354.0 C775.2 352.2 776.0 350.3 776.8 348.4 C777.7 346.5 778.5 344.6 779.3 342.6 C780.2 340.6 781.0 338.6 781.8 336.5 C782.7 334.4 783.5 332.3 784.3 330.1 C785.2 328.0 786.0 325.8 786.8 323.5 C787.7 321.3 788.5 319.0 789.4 316.7 C790.2 314.4 791.0 312.0 791.9 309.7 C792.7 307.3 793.5 304.9 794.4 302.4 C795.2 300.0 796.0 297.5 796.9 295.1 C797.7 292.6 798.5 290.1 799.4 287.6 C800.2 285.1 801.0 282.6 801.9 280.2 C802.7 277.7 803.5 275.2 804.4 272.7 C805.2 270.3 806.1 267.8 806.9 265.4 C807.7 262.9 808.6 260.5 809.4 258.2 C810.2 255.8 811.5 252.3 811.9 251.2" fill="none" stroke="#111" stroke-width="4.0" stroke-linecap="butt" stroke-linejoin="round"/>
<path d="M85.3 849.6 L99.3 854.6 L115.9 813.1 L130.3 814.2 L145.3 824.9 L160.3 873.6 L175.3 897.5 L190.3 915.5 L205.3 924.9 L220.3 929.8 L235.3 929.8 L250.3 922.9 L265.4 924.4 L280.4 916.8 L295.4 852.5 L310.3 819.5 L325.3 862.0 L340.4 740.4 L354.7 727.3 L370.3 763.2 L385.4 696.6 L400.4 783.7 L415.5 852.9 L430.4 819.8 L445.4 795.8 L460.4 783.8 L475.5 795.3 L490.4 788.2 L505.4 790.4 L520.4 807.7 L535.4 844.6 L550.4 875.1 L565.4 840.6 L580.4 810.8 L595.4 780.8 L610.4 676.1 L625.5 574.7 L639.9 562.1 L655.5 652.3 L670.5 744.2 L685.5 811.0 L700.5 856.5 L715.5 887.9 L730.5 895.1 L745.5 910.1 L760.4 922.7 L775.7 906.6 L790.5 914.6" fill="none" stroke="#111" stroke-width="3.9" stroke-dasharray="23.05 11.19" stroke-dashoffset="7.0" stroke-linecap="butt" stroke-linejoin="miter" stroke-miterlimit="1.9"/><path d="M85.5 596.2 C85.9 597.3 87.2 600.5 88.0 602.6 C88.8 604.7 89.7 606.7 90.5 608.7 C91.3 610.6 92.2 612.5 93.0 614.4 C93.8 616.3 94.7 618.1 95.5 619.8 C96.4 621.6 97.2 623.3 98.0 624.9 C98.9 626.6 99.7 628.2 100.5 629.8 C101.4 631.3 102.2 632.8 103.0 634.3 C103.9 635.7 104.7 637.1 105.5 638.5 C106.4 639.8 107.2 641.1 108.0 642.4 C108.9 643.6 109.7 644.9 110.5 646.0 C111.4 647.2 112.2 648.3 113.1 649.4 C113.9 650.4 114.7 651.4 115.6 652.4 C116.4 653.4 117.2 654.3 118.1 655.2 C118.9 656.1 119.7 656.9 120.6 657.7 C121.4 658.5 122.2 659.2 123.1 659.9 C123.9 660.6 124.7 661.2 125.6 661.9 C126.4 662.5 127.2 663.0 128.1 663.5 C128.9 664.1 129.7 664.5 130.6 665.0 C131.4 665.4 132.3 665.8 133.1 666.1 C133.9 666.5 134.8 666.8 135.6 667.1 C136.4 667.3 137.3 667.5 138.1 667.7 C138.9 667.9 139.8 668.0 140.6 668.1 C141.4 668.2 142.3 668.3 143.1 668.3 C143.9 668.3 144.8 668.3 145.6 668.2 C146.4 668.2 147.3 668.1 148.1 667.9 C148.9 667.8 149.8 667.6 150.6 667.4 C151.5 667.1 152.3 666.9 153.1 666.5 C154.0 666.2 154.8 665.9 155.6 665.4 C156.5 665.0 157.3 664.6 158.1 664.0 C159.0 663.5 159.8 663.0 160.6 662.4 C161.5 661.7 162.3 661.1 163.1 660.3 C164.0 659.6 164.8 658.8 165.6 658.0 C166.5 657.2 167.3 656.3 168.2 655.3 C169.0 654.4 169.8 653.4 170.7 652.3 C171.5 651.2 172.3 650.1 173.2 648.9 C174.0 647.7 174.8 646.5 175.7 645.2 C176.5 643.8 177.3 642.5 178.2 641.1 C179.0 639.7 179.8 638.2 180.7 636.8 C181.5 635.3 182.3 633.8 183.2 632.3 C184.0 630.8 184.8 629.3 185.7 627.8 C186.5 626.4 187.4 624.9 188.2 623.4 C189.0 622.0 189.9 620.5 190.7 619.1 C191.5 617.8 192.4 616.4 193.2 615.1 C194.0 613.7 194.9 612.4 195.7 611.2 C196.5 609.9 197.4 608.7 198.2 607.6 C199.0 606.4 199.9 605.3 200.7 604.2 C201.5 603.2 202.4 602.2 203.2 601.3 C204.0 600.3 204.9 599.4 205.7 598.6 C206.6 597.8 207.4 597.0 208.2 596.2 C209.1 595.5 209.9 594.8 210.7 594.2 C211.6 593.5 212.4 592.9 213.2 592.4 C214.1 591.8 214.9 591.3 215.7 590.8 C216.6 590.3 217.4 589.8 218.2 589.4 C219.1 589.0 219.9 588.6 220.7 588.3 C221.6 587.9 222.4 587.6 223.3 587.3 C224.1 587.0 224.9 586.8 225.8 586.6 C226.6 586.4 227.4 586.2 228.3 586.1 C229.1 586.0 229.9 585.9 230.8 585.8 C231.6 585.8 232.4 585.7 233.3 585.8 C234.1 585.8 234.9 585.8 235.8 585.9 C236.6 586.0 237.4 586.1 238.3 586.3 C239.1 586.5 239.9 586.7 240.8 586.9 C241.6 587.2 242.5 587.5 243.3 587.8 C244.1 588.1 245.0 588.5 245.8 588.9 C246.6 589.3 247.5 589.7 248.3 590.2 C249.1 590.7 250.0 591.2 250.8 591.8 C251.6 592.3 252.5 592.9 253.3 593.6 C254.1 594.2 255.0 594.9 255.8 595.6 C256.6 596.4 257.5 597.1 258.3 597.9 C259.1 598.7 260.0 599.6 260.8 600.5 C261.7 601.4 262.5 602.3 263.3 603.3 C264.2 604.3 265.0 605.3 265.8 606.3 C266.7 607.4 267.5 608.5 268.3 609.6 C269.2 610.8 270.0 611.9 270.8 613.1 C271.7 614.3 272.5 615.6 273.3 616.8 C274.2 618.1 275.0 619.4 275.8 620.7 C276.7 622.0 277.5 623.3 278.4 624.6 C279.2 625.9 280.0 627.3 280.9 628.6 C281.7 630.0 282.5 631.3 283.4 632.7 C284.2 634.0 285.0 635.4 285.9 636.8 C286.7 638.2 287.5 639.6 288.4 641.0 C289.2 642.5 290.0 643.9 290.9 645.5 C291.7 647.0 292.5 648.5 293.4 650.1 C294.2 651.7 295.0 653.4 295.9 655.1 C296.7 656.8 297.6 658.6 298.4 660.5 C299.2 662.4 300.1 664.3 300.9 666.3 C301.7 668.3 302.6 670.4 303.4 672.6 C304.2 674.8 305.1 677.0 305.9 679.4 C306.7 681.7 307.6 684.2 308.4 686.7 C309.2 689.2 310.1 691.8 310.9 694.5 C311.7 697.2 312.6 700.0 313.4 702.8 C314.2 705.6 315.1 708.6 315.9 711.5 C316.8 714.5 317.6 717.5 318.4 720.5 C319.3 723.5 320.1 726.5 320.9 729.5 C321.8 732.5 322.6 735.5 323.4 738.5 C324.3 741.5 325.1 744.4 325.9 747.3 C326.8 750.2 327.6 753.1 328.4 755.9 C329.3 758.7 330.1 761.5 330.9 764.2 C331.8 766.9 332.6 769.6 333.5 772.1 C334.3 774.7 335.1 777.2 336.0 779.6 C336.8 782.0 337.6 784.3 338.5 786.5 C339.3 788.7 340.1 790.9 341.0 792.9 C341.8 794.9 342.6 796.8 343.5 798.6 C344.3 800.4 345.1 802.0 346.0 803.6 C346.8 805.1 347.6 806.6 348.5 807.9 C349.3 809.3 350.1 810.5 351.0 811.7 C351.8 812.9 352.7 814.0 353.5 815.0 C354.3 816.1 355.2 817.1 356.0 818.1 C356.8 819.0 357.7 820.0 358.5 820.9 C359.3 821.8 360.2 822.6 361.0 823.4 C361.8 824.2 362.7 825.0 363.5 825.7 C364.3 826.5 365.2 827.1 366.0 827.8 C366.8 828.4 367.7 829.0 368.5 829.6 C369.4 830.1 370.2 830.6 371.0 831.0 C371.9 831.5 372.7 831.9 373.5 832.2 C374.4 832.5 375.2 832.8 376.0 833.0 C376.9 833.3 377.7 833.4 378.5 833.5 C379.4 833.6 380.2 833.6 381.0 833.6 C381.9 833.6 382.7 833.4 383.5 833.3 C384.4 833.1 385.2 832.9 386.0 832.6 C386.9 832.3 387.7 831.9 388.6 831.5 C389.4 831.1 390.2 830.6 391.1 830.1 C391.9 829.5 392.7 829.0 393.6 828.3 C394.4 827.6 395.2 826.9 396.1 826.2 C396.9 825.4 397.7 824.6 398.6 823.7 C399.4 822.8 400.2 821.9 401.1 820.9 C401.9 820.0 402.7 818.9 403.6 817.8 C404.4 816.8 405.2 815.6 406.1 814.4 C406.9 813.3 407.8 812.0 408.6 810.8 C409.4 809.5 410.3 808.2 411.1 806.9 C411.9 805.5 412.8 804.2 413.6 802.8 C414.4 801.5 415.3 800.1 416.1 798.8 C416.9 797.5 417.8 796.2 418.6 795.0 C419.4 793.7 420.3 792.5 421.1 791.4 C421.9 790.3 422.8 789.2 423.6 788.3 C424.5 787.4 425.3 786.5 426.1 785.8 C427.0 785.0 427.8 784.4 428.6 783.9 C429.5 783.4 430.3 783.1 431.1 782.8 C432.0 782.5 432.8 782.4 433.6 782.4 C434.5 782.3 435.3 782.4 436.1 782.6 C437.0 782.7 437.8 783.0 438.6 783.3 C439.5 783.6 440.3 784.0 441.1 784.5 C442.0 785.0 442.8 785.5 443.7 786.2 C444.5 786.8 445.3 787.4 446.2 788.1 C447.0 788.9 447.8 789.6 448.7 790.4 C449.5 791.2 450.3 792.1 451.2 792.9 C452.0 793.8 452.8 794.7 453.7 795.6 C454.5 796.5 455.3 797.4 456.2 798.3 C457.0 799.2 457.8 800.2 458.7 801.1 C459.5 802.0 460.3 802.9 461.2 803.8 C462.0 804.7 462.9 805.6 463.7 806.4 C464.5 807.2 465.4 808.1 466.2 808.8 C467.0 809.6 467.9 810.3 468.7 811.0 C469.5 811.7 470.4 812.3 471.2 812.8 C472.0 813.4 472.9 813.9 473.7 814.3 C474.5 814.7 475.4 815.1 476.2 815.4 C477.0 815.7 477.9 816.0 478.7 816.2 C479.6 816.4 480.4 816.5 481.2 816.6 C482.1 816.7 482.9 816.8 483.7 816.8 C484.6 816.8 485.4 816.8 486.2 816.7 C487.1 816.7 487.9 816.6 488.7 816.4 C489.6 816.3 490.4 816.1 491.2 815.9 C492.1 815.7 492.9 815.4 493.7 815.2 C494.6 814.9 495.4 814.6 496.2 814.2 C497.1 813.9 497.9 813.5 498.8 813.0 C499.6 812.6 500.4 812.1 501.3 811.6 C502.1 811.2 502.9 810.6 503.8 810.1 C504.6 809.5 505.4 808.9 506.3 808.2 C507.1 807.6 507.9 806.9 508.8 806.2 C509.6 805.5 510.4 804.8 511.3 804.0 C512.1 803.3 512.9 802.4 513.8 801.6 C514.6 800.8 515.4 799.9 516.3 799.0 C517.1 798.1 518.0 797.2 518.8 796.2 C519.6 795.2 520.5 794.2 521.3 793.2 C522.1 792.1 523.0 791.1 523.8 790.0 C524.6 788.9 525.5 787.8 526.3 786.6 C527.1 785.4 528.0 784.2 528.8 783.0 C529.6 781.8 530.5 780.5 531.3 779.3 C532.1 778.0 533.0 776.7 533.8 775.3 C534.7 774.0 535.5 772.6 536.3 771.2 C537.2 769.8 538.0 768.4 538.8 766.9 C539.7 765.4 540.5 763.9 541.3 762.4 C542.2 760.8 543.0 759.2 543.8 757.5 C544.7 755.8 545.5 754.1 546.3 752.3 C547.2 750.5 548.0 748.6 548.8 746.6 C549.7 744.7 550.5 742.7 551.3 740.5 C552.2 738.4 553.0 736.2 553.9 733.9 C554.7 731.6 555.5 729.1 556.4 726.7 C557.2 724.3 558.0 721.7 558.9 719.2 C559.7 716.7 560.5 714.1 561.4 711.7 C562.2 709.2 563.0 706.8 563.9 704.5 C564.7 702.3 565.5 700.2 566.4 698.4 C567.2 696.6 568.0 695.1 568.9 693.8 C569.7 692.4 570.6 691.4 571.4 690.4 C572.2 689.4 573.1 688.6 573.9 687.8 C574.7 687.0 575.6 686.3 576.4 685.7 C577.2 685.1 578.1 684.6 578.9 684.2 C579.7 683.8 580.6 683.5 581.4 683.3 C582.2 683.1 583.1 683.0 583.9 683.0 C584.7 683.0 585.6 683.1 586.4 683.4 C587.2 683.6 588.1 684.0 588.9 684.5 C589.8 685.0 590.6 685.6 591.4 686.4 C592.3 687.1 593.1 688.0 593.9 689.0 C594.8 690.0 595.6 691.1 596.4 692.3 C597.3 693.6 598.1 694.9 598.9 696.3 C599.8 697.8 600.6 699.3 601.4 701.0 C602.3 702.6 603.1 704.3 603.9 706.1 C604.8 708.0 605.6 709.9 606.4 711.9 C607.3 713.9 608.1 716.0 609.0 718.3 C609.8 720.5 610.6 722.8 611.5 725.3 C612.3 727.8 613.1 730.4 614.0 733.2 C614.8 735.9 615.6 738.8 616.5 741.9 C617.3 744.9 618.1 748.1 619.0 751.4 C619.8 754.8 620.6 758.2 621.5 761.8 C622.3 765.4 623.1 769.1 624.0 772.9 C624.8 776.8 625.7 780.7 626.5 784.8 C627.3 788.9 628.2 793.2 629.0 797.6 C629.8 802.0 630.7 806.7 631.5 811.3 C632.3 815.9 633.2 820.7 634.0 825.2 C634.8 829.7 635.7 834.1 636.5 838.2 C637.3 842.3 638.2 846.2 639.0 849.9 C639.8 853.6 640.7 857.1 641.5 860.5 C642.3 863.9 643.2 867.2 644.0 870.3 C644.9 873.5 645.7 876.6 646.5 879.3 C647.4 882.1 648.2 884.7 649.0 886.9 C649.9 889.1 650.7 891.1 651.5 892.5 C652.4 894.0 653.2 895.1 654.0 895.8 C654.9 896.6 655.7 896.9 656.5 897.0 C657.4 897.0 658.2 896.7 659.0 896.1 C659.9 895.5 660.7 894.6 661.5 893.3 C662.4 892.1 663.2 890.4 664.1 888.4 C664.9 886.5 665.7 884.1 666.6 881.5 C667.4 878.9 668.2 875.9 669.1 872.9 C669.9 869.8 670.7 866.4 671.6 862.9 C672.4 859.5 673.2 855.8 674.1 852.1 C674.9 848.4 675.7 844.5 676.6 840.7 C677.4 836.9 678.2 833.0 679.1 829.2 C679.9 825.4 680.8 821.5 681.6 817.8 C682.4 814.0 683.3 810.3 684.1 806.6 C684.9 803.0 685.8 799.4 686.6 795.8 C687.4 792.3 688.3 788.9 689.1 785.5 C689.9 782.1 690.8 778.8 691.6 775.5 C692.4 772.2 693.3 769.0 694.1 765.9 C694.9 762.7 695.8 759.6 696.6 756.5 C697.4 753.4 698.3 750.4 699.1 747.3 C700.0 744.3 700.8 741.2 701.6 738.2 C702.5 735.2 703.3 732.2 704.1 729.2 C705.0 726.2 705.8 723.2 706.6 720.2 C707.5 717.3 708.3 714.3 709.1 711.4 C710.0 708.5 710.8 705.5 711.6 702.6 C712.5 699.8 713.3 696.9 714.1 694.1 C715.0 691.2 715.8 688.4 716.6 685.6 C717.5 682.9 718.3 680.1 719.2 677.4 C720.0 674.7 720.8 672.0 721.7 669.4 C722.5 666.8 723.3 664.2 724.2 661.6 C725.0 659.1 725.8 656.6 726.7 654.1 C727.5 651.7 728.3 649.3 729.2 646.9 C730.0 644.6 730.8 642.3 731.7 640.0 C732.5 637.8 733.3 635.6 734.2 633.6 C735.0 631.5 735.9 629.5 736.7 627.5 C737.5 625.6 738.4 623.8 739.2 622.1 C740.0 620.3 740.9 618.7 741.7 617.2 C742.5 615.7 743.4 614.3 744.2 612.9 C745.0 611.6 745.9 610.3 746.7 609.1 C747.5 607.8 748.4 606.6 749.2 605.4 C750.0 604.1 750.9 602.8 751.7 601.5 C752.5 600.2 753.4 598.8 754.2 597.5 C755.1 596.1 755.9 594.7 756.7 593.4 C757.6 592.0 758.4 590.7 759.2 589.4 C760.1 588.1 760.9 586.8 761.7 585.6 C762.6 584.5 763.4 583.3 764.2 582.3 C765.1 581.2 765.9 580.3 766.7 579.4 C767.6 578.5 768.4 577.7 769.2 576.9 C770.1 576.1 770.9 575.4 771.7 574.8 C772.6 574.1 773.4 573.5 774.3 573.0 C775.1 572.4 775.9 571.9 776.8 571.4 C777.6 571.0 778.4 570.5 779.3 570.1 C780.1 569.7 780.9 569.4 781.8 569.0 C782.6 568.6 783.4 568.3 784.3 568.0 C785.1 567.6 785.9 567.3 786.8 567.0 C787.6 566.7 788.4 566.4 789.3 566.2 C790.1 565.9 791.0 565.7 791.8 565.6 C792.6 565.4 793.5 565.3 794.3 565.3 C795.1 565.3 796.0 565.3 796.8 565.5 C797.6 565.6 798.9 566.1 799.3 566.2" fill="none" stroke="#111" stroke-width="3.15" stroke-dasharray="0.01 6.28" stroke-linecap="round"/><path d="M84.6 600.4 C85.0 601.7 86.3 605.5 87.1 608.0 C87.9 610.5 88.8 612.9 89.6 615.2 C90.4 617.5 91.3 619.8 92.1 622.0 C92.9 624.2 93.8 626.3 94.6 628.4 C95.4 630.5 96.3 632.5 97.1 634.4 C97.9 636.4 98.8 638.2 99.6 640.1 C100.5 641.9 101.3 643.7 102.1 645.4 C103.0 647.1 103.8 648.7 104.6 650.3 C105.5 651.9 106.3 653.5 107.1 655.0 C108.0 656.5 108.8 657.9 109.6 659.3 C110.5 660.7 111.3 662.1 112.1 663.4 C113.0 664.7 113.8 665.9 114.6 667.1 C115.5 668.3 116.3 669.5 117.1 670.6 C118.0 671.8 118.8 672.8 119.6 673.9 C120.5 674.9 121.3 675.9 122.1 676.9 C123.0 677.9 123.8 678.8 124.6 679.7 C125.5 680.6 126.3 681.5 127.1 682.3 C128.0 683.1 128.8 683.9 129.6 684.6 C130.5 685.3 131.3 686.0 132.2 686.7 C133.0 687.3 133.8 687.9 134.7 688.5 C135.5 689.1 136.3 689.6 137.2 690.0 C138.0 690.5 138.8 691.0 139.7 691.3 C140.5 691.7 141.3 692.1 142.2 692.4 C143.0 692.6 143.8 692.9 144.7 693.1 C145.5 693.3 146.3 693.4 147.2 693.5 C148.0 693.6 148.8 693.7 149.7 693.7 C150.5 693.7 151.3 693.6 152.2 693.5 C153.0 693.4 153.8 693.3 154.7 693.0 C155.5 692.8 156.3 692.6 157.2 692.3 C158.0 692.0 158.8 691.6 159.7 691.2 C160.5 690.8 161.4 690.4 162.2 689.9 C163.0 689.4 163.9 688.8 164.7 688.2 C165.5 687.6 166.4 687.0 167.2 686.3 C168.0 685.6 168.9 684.8 169.7 684.1 C170.5 683.3 171.4 682.4 172.2 681.6 C173.0 680.7 173.9 679.8 174.7 678.8 C175.5 677.8 176.4 676.8 177.2 675.8 C178.0 674.7 178.9 673.6 179.7 672.4 C180.5 671.3 181.4 670.1 182.2 668.9 C183.0 667.7 183.9 666.4 184.7 665.2 C185.5 664.0 186.4 662.7 187.2 661.5 C188.0 660.2 188.9 659.0 189.7 657.8 C190.6 656.6 191.4 655.4 192.2 654.3 C193.1 653.2 193.9 652.1 194.7 651.1 C195.6 650.1 196.4 649.1 197.2 648.2 C198.1 647.3 198.9 646.5 199.7 645.7 C200.6 644.9 201.4 644.1 202.2 643.4 C203.1 642.7 203.9 642.0 204.7 641.4 C205.6 640.7 206.4 640.2 207.2 639.6 C208.1 639.0 208.9 638.5 209.7 638.0 C210.6 637.5 211.4 637.0 212.2 636.6 C213.1 636.1 213.9 635.7 214.7 635.4 C215.6 635.0 216.4 634.6 217.2 634.3 C218.1 634.0 218.9 633.7 219.8 633.5 C220.6 633.3 221.4 633.0 222.3 632.9 C223.1 632.7 223.9 632.5 224.8 632.4 C225.6 632.3 226.4 632.2 227.3 632.1 C228.1 632.1 228.9 632.1 229.8 632.1 C230.6 632.1 231.4 632.1 232.3 632.2 C233.1 632.3 233.9 632.4 234.8 632.5 C235.6 632.6 236.4 632.8 237.3 633.0 C238.1 633.2 238.9 633.4 239.8 633.7 C240.6 633.9 241.4 634.2 242.3 634.5 C243.1 634.9 243.9 635.2 244.8 635.6 C245.6 636.0 246.4 636.4 247.3 636.8 C248.1 637.3 248.9 637.8 249.8 638.3 C250.6 638.8 251.5 639.3 252.3 639.9 C253.1 640.5 254.0 641.1 254.8 641.7 C255.6 642.3 256.5 643.0 257.3 643.7 C258.1 644.4 259.0 645.1 259.8 645.9 C260.6 646.6 261.5 647.4 262.3 648.2 C263.1 649.1 264.0 649.9 264.8 650.8 C265.6 651.7 266.5 652.6 267.3 653.5 C268.1 654.5 269.0 655.4 269.8 656.4 C270.6 657.4 271.5 658.5 272.3 659.5 C273.1 660.6 274.0 661.7 274.8 662.8 C275.6 663.9 276.5 665.1 277.3 666.3 C278.1 667.5 279.0 668.7 279.8 669.9 C280.7 671.2 281.5 672.4 282.3 673.8 C283.2 675.1 284.0 676.4 284.8 677.8 C285.7 679.1 286.5 680.5 287.3 682.0 C288.2 683.4 289.0 684.9 289.8 686.4 C290.7 687.8 291.5 689.4 292.3 690.9 C293.2 692.5 294.0 694.1 294.8 695.7 C295.7 697.3 296.5 699.0 297.3 700.7 C298.2 702.4 299.0 704.1 299.8 705.9 C300.7 707.7 301.5 709.5 302.3 711.3 C303.2 713.2 304.0 715.0 304.8 716.9 C305.7 718.8 306.5 720.8 307.3 722.8 C308.2 724.8 309.0 726.8 309.9 728.9 C310.7 730.9 311.5 733.0 312.4 735.2 C313.2 737.3 314.0 739.5 314.9 741.7 C315.7 743.8 316.5 746.1 317.4 748.3 C318.2 750.5 319.0 752.8 319.9 755.0 C320.7 757.3 321.5 759.6 322.4 761.8 C323.2 764.1 324.0 766.3 324.9 768.6 C325.7 770.8 326.5 773.0 327.4 775.2 C328.2 777.4 329.0 779.6 329.9 781.7 C330.7 783.9 331.5 786.0 332.4 788.1 C333.2 790.1 334.0 792.2 334.9 794.2 C335.7 796.1 336.5 798.1 337.4 800.0 C338.2 801.8 339.0 803.7 339.9 805.4 C340.7 807.2 341.6 808.9 342.4 810.6 C343.2 812.2 344.1 813.8 344.9 815.4 C345.7 816.9 346.6 818.4 347.4 819.8 C348.2 821.2 349.1 822.5 349.9 823.8 C350.7 825.0 351.6 826.2 352.4 827.3 C353.2 828.4 354.1 829.5 354.9 830.4 C355.7 831.4 356.6 832.2 357.4 833.0 C358.2 833.8 359.1 834.5 359.9 835.2 C360.7 835.9 361.6 836.5 362.4 837.0 C363.2 837.6 364.1 838.0 364.9 838.5 C365.7 838.9 366.6 839.3 367.4 839.7 C368.2 840.1 369.1 840.4 369.9 840.7 C370.8 841.0 371.6 841.2 372.4 841.4 C373.3 841.6 374.1 841.8 374.9 841.9 C375.8 842.0 376.6 842.1 377.4 842.1 C378.3 842.1 379.1 842.1 379.9 842.0 C380.8 841.9 381.6 841.7 382.4 841.5 C383.3 841.3 384.1 841.1 384.9 840.7 C385.8 840.4 386.6 840.0 387.4 839.6 C388.3 839.1 389.1 838.6 389.9 838.0 C390.8 837.4 391.6 836.8 392.4 836.1 C393.3 835.4 394.1 834.6 394.9 833.7 C395.8 832.9 396.6 831.9 397.4 831.0 C398.3 830.0 399.1 828.9 400.0 827.8 C400.8 826.7 401.6 825.5 402.5 824.2 C403.3 823.0 404.1 821.7 405.0 820.3 C405.8 818.9 406.6 817.5 407.5 816.0 C408.3 814.5 409.1 813.0 410.0 811.3 C410.8 809.7 411.6 808.0 412.5 806.3 C413.3 804.6 414.1 802.8 415.0 800.9 C415.8 799.1 416.6 797.2 417.5 795.3 C418.3 793.4 419.1 791.4 420.0 789.5 C420.8 787.5 421.6 785.5 422.5 783.6 C423.3 781.6 424.1 779.7 425.0 777.8 C425.8 775.9 426.6 773.9 427.5 772.1 C428.3 770.3 429.1 768.4 430.0 766.7 C430.8 765.0 431.7 763.3 432.5 761.7 C433.3 760.1 434.2 758.5 435.0 757.1 C435.8 755.7 436.7 754.3 437.5 753.1 C438.3 751.9 439.2 750.8 440.0 749.9 C440.8 748.9 441.7 748.1 442.5 747.4 C443.3 746.7 444.2 746.1 445.0 745.6 C445.8 745.1 446.7 744.7 447.5 744.4 C448.3 744.1 449.2 743.9 450.0 743.7 C450.8 743.5 451.7 743.4 452.5 743.4 C453.3 743.4 454.2 743.4 455.0 743.5 C455.8 743.6 456.7 743.7 457.5 744.0 C458.3 744.2 459.2 744.6 460.0 745.0 C460.9 745.5 461.7 746.0 462.5 746.7 C463.4 747.3 464.2 748.1 465.0 749.1 C465.9 750.0 466.7 751.1 467.5 752.3 C468.4 753.5 469.2 754.9 470.0 756.3 C470.9 757.7 471.7 759.2 472.5 760.8 C473.4 762.3 474.2 763.9 475.0 765.5 C475.9 767.1 476.7 768.7 477.5 770.3 C478.4 771.8 479.2 773.4 480.0 774.8 C480.9 776.2 481.7 777.6 482.5 778.9 C483.4 780.3 484.2 781.5 485.0 782.7 C485.9 783.9 486.7 785.0 487.5 786.0 C488.4 787.1 489.2 788.1 490.0 789.0 C490.9 789.9 491.7 790.8 492.6 791.6 C493.4 792.5 494.2 793.2 495.1 793.9 C495.9 794.7 496.7 795.3 497.6 795.9 C498.4 796.6 499.2 797.1 500.1 797.7 C500.9 798.2 501.7 798.7 502.6 799.1 C503.4 799.5 504.2 799.9 505.1 800.3 C505.9 800.7 506.7 801.0 507.6 801.3 C508.4 801.5 509.2 801.8 510.1 801.9 C510.9 802.1 511.7 802.2 512.6 802.1 C513.4 802.1 514.2 801.9 515.1 801.7 C515.9 801.4 516.7 801.1 517.6 800.6 C518.4 800.1 519.2 799.6 520.1 799.0 C520.9 798.3 521.8 797.6 522.6 796.9 C523.4 796.1 524.3 795.3 525.1 794.4 C525.9 793.6 526.8 792.7 527.6 791.8 C528.4 790.9 529.3 789.9 530.1 789.0 C530.9 788.0 531.8 787.0 532.6 786.1 C533.4 785.1 534.3 784.0 535.1 783.0 C535.9 781.9 536.8 780.9 537.6 779.7 C538.4 778.6 539.3 777.4 540.1 776.2 C540.9 775.0 541.8 773.7 542.6 772.4 C543.4 771.1 544.3 769.7 545.1 768.2 C545.9 766.7 546.8 765.2 547.6 763.6 C548.4 761.9 549.3 760.2 550.1 758.4 C551.0 756.7 551.8 754.8 552.6 752.8 C553.5 750.9 554.3 748.9 555.1 746.8 C556.0 744.7 556.8 742.6 557.6 740.4 C558.5 738.2 559.3 736.0 560.1 733.8 C561.0 731.5 561.8 729.2 562.6 726.9 C563.5 724.6 564.3 722.2 565.1 719.9 C566.0 717.6 566.8 715.2 567.6 713.1 C568.5 710.9 569.3 708.8 570.1 707.0 C571.0 705.1 571.8 703.5 572.6 702.0 C573.5 700.6 574.3 699.4 575.1 698.3 C576.0 697.3 576.8 696.4 577.6 695.7 C578.5 695.0 579.3 694.5 580.1 694.2 C581.0 693.8 581.8 693.6 582.7 693.4 C583.5 693.3 584.3 693.4 585.2 693.5 C586.0 693.7 586.8 693.9 587.7 694.3 C588.5 694.7 589.3 695.2 590.2 695.8 C591.0 696.5 591.8 697.2 592.7 698.1 C593.5 699.0 594.3 700.0 595.2 701.1 C596.0 702.2 596.8 703.4 597.7 704.8 C598.5 706.2 599.3 707.6 600.2 709.3 C601.0 710.9 601.8 712.6 602.7 714.5 C603.5 716.3 604.3 718.3 605.2 720.4 C606.0 722.5 606.8 724.7 607.7 727.1 C608.5 729.5 609.3 731.9 610.2 734.5 C611.0 737.2 611.9 739.9 612.7 742.7 C613.5 745.6 614.4 748.6 615.2 751.7 C616.0 754.7 616.9 757.8 617.7 760.9 C618.5 763.9 619.4 766.9 620.2 770.0 C621.0 773.1 621.9 776.1 622.7 779.4 C623.5 782.7 624.4 786.4 625.2 789.9 C626.0 793.5 626.9 797.3 627.7 800.8 C628.5 804.3 629.4 807.6 630.2 810.7 C631.0 813.8 631.9 816.7 632.7 819.4 C633.5 822.1 634.4 824.6 635.2 827.0 C636.0 829.3 636.9 831.4 637.7 833.3 C638.5 835.3 639.4 837.0 640.2 838.6 C641.1 840.1 641.9 841.5 642.7 842.7 C643.6 843.9 644.4 844.8 645.2 845.6 C646.1 846.4 646.9 847.0 647.7 847.5 C648.6 847.9 649.4 848.1 650.2 848.2 C651.1 848.2 651.9 848.1 652.7 847.8 C653.6 847.4 654.4 846.9 655.2 846.2 C656.1 845.5 656.9 844.7 657.7 843.6 C658.6 842.5 659.4 841.3 660.2 839.9 C661.1 838.4 661.9 836.8 662.7 835.0 C663.6 833.2 664.4 831.2 665.2 829.0 C666.1 826.8 666.9 824.5 667.7 821.9 C668.6 819.3 669.4 816.5 670.2 813.6 C671.1 810.6 671.9 807.5 672.8 804.3 C673.6 801.1 674.4 797.8 675.3 794.6 C676.1 791.3 676.9 788.0 677.8 784.8 C678.6 781.6 679.4 778.4 680.3 775.3 C681.1 772.2 681.9 769.1 682.8 766.1 C683.6 763.0 684.4 760.0 685.3 757.0 C686.1 754.1 686.9 751.2 687.8 748.3 C688.6 745.4 689.4 742.6 690.3 739.8 C691.1 737.0 691.9 734.2 692.8 731.5 C693.6 728.8 694.4 726.1 695.3 723.4 C696.1 720.8 696.9 718.2 697.8 715.6 C698.6 713.1 699.4 710.5 700.3 708.0 C701.1 705.5 702.0 703.1 702.8 700.6 C703.6 698.2 704.5 695.8 705.3 693.5 C706.1 691.1 707.0 688.8 707.8 686.5 C708.6 684.2 709.5 682.0 710.3 679.8 C711.1 677.6 712.0 675.4 712.8 673.2 C713.6 671.1 714.5 669.0 715.3 666.9 C716.1 664.8 717.0 662.8 717.8 660.8 C718.6 658.8 719.5 656.8 720.3 654.9 C721.1 652.9 722.0 651.0 722.8 649.2 C723.6 647.3 724.5 645.5 725.3 643.8 C726.1 642.0 727.0 640.3 727.8 638.6 C728.6 636.9 729.5 635.3 730.3 633.7 C731.2 632.1 732.0 630.5 732.8 629.0 C733.7 627.5 734.5 626.1 735.3 624.7 C736.2 623.3 737.0 621.9 737.8 620.6 C738.7 619.3 739.5 618.0 740.3 616.8 C741.2 615.6 742.0 614.5 742.8 613.4 C743.7 612.3 744.5 611.2 745.3 610.2 C746.2 609.2 747.0 608.2 747.8 607.3 C748.7 606.4 749.5 605.5 750.3 604.7 C751.2 603.9 752.0 603.1 752.8 602.4 C753.7 601.7 754.5 601.0 755.3 600.3 C756.2 599.7 757.0 599.1 757.8 598.6 C758.7 598.0 759.5 597.5 760.4 597.1 C761.2 596.6 762.0 596.2 762.9 595.8 C763.7 595.4 764.5 595.1 765.4 594.8 C766.2 594.5 767.0 594.3 767.9 594.1 C768.7 593.9 769.5 593.7 770.4 593.6 C771.2 593.4 772.0 593.4 772.9 593.3 C773.7 593.3 774.5 593.3 775.4 593.3 C776.2 593.3 777.0 593.4 777.9 593.5 C778.7 593.6 779.5 593.7 780.4 593.9 C781.2 594.1 782.0 594.3 782.9 594.6 C783.7 594.8 784.5 595.1 785.4 595.4 C786.2 595.7 787.0 596.1 787.9 596.5 C788.7 596.9 789.5 597.3 790.4 597.8 C791.2 598.2 792.1 598.7 792.9 599.2 C793.7 599.8 794.6 600.3 795.4 600.9 C796.2 601.5 797.1 602.1 797.9 602.8 C798.7 603.4 799.6 604.1 800.4 604.8 C801.2 605.5 802.1 606.2 802.9 607.0 C803.7 607.8 805.0 609.0 805.4 609.4" fill="none" stroke="#111" stroke-width="4.0" stroke-linecap="butt" stroke-linejoin="round"/>
<line x1="113.2" y1="146.5" x2="113.2" y2="170.6" stroke="#111" stroke-width="2.3"/><path d="M109.0 169.6 L117.4 169.6 L113.2 178.0 Z" fill="#111"/>
<line x1="134.0" y1="151.2" x2="134.0" y2="175.3" stroke="#111" stroke-width="2.3"/><path d="M129.8 174.3 L138.2 174.3 L134.0 182.7 Z" fill="#111"/>
<line x1="156.1" y1="156.2" x2="156.1" y2="180.3" stroke="#111" stroke-width="2.3"/><path d="M151.9 179.3 L160.2 179.3 L156.1 187.7 Z" fill="#111"/>
<line x1="235.6" y1="78.6" x2="235.6" y2="102.4" stroke="#111" stroke-width="2.3"/><path d="M231.4 101.4 L239.8 101.4 L235.6 109.8 Z" fill="#111"/>
<line x1="317.3" y1="14.9" x2="317.3" y2="31.2" stroke="#111" stroke-width="2.6"/><path d="M311.7 30.2 L322.9 30.2 L317.3 42.2 Z" fill="#111"/>
<line x1="435.7" y1="132.0" x2="435.7" y2="155.3" stroke="#111" stroke-width="2.3"/><path d="M431.6 154.3 L439.8 154.3 L435.7 162.7 Z" fill="#111"/>
<line x1="553.0" y1="188.3" x2="553.0" y2="211.5" stroke="#111" stroke-width="2.3"/><path d="M548.9 210.5 L557.1 210.5 L553.0 218.9 Z" fill="#111"/>
<line x1="579.3" y1="183.8" x2="579.3" y2="207.1" stroke="#111" stroke-width="2.3"/><path d="M575.1 206.1 L583.4 206.1 L579.3 214.5 Z" fill="#111"/>
<line x1="631.4" y1="169.2" x2="631.4" y2="192.5" stroke="#111" stroke-width="2.3"/><path d="M627.2 191.5 L635.5 191.5 L631.4 199.9 Z" fill="#111"/>
<line x1="680.3" y1="248.9" x2="680.3" y2="272.2" stroke="#111" stroke-width="2.3"/><path d="M676.1 271.2 L684.4 271.2 L680.3 279.6 Z" fill="#111"/>
<line x1="735.7" y1="302.4" x2="735.7" y2="325.6" stroke="#111" stroke-width="2.3"/><path d="M731.6 324.6 L739.9 324.6 L735.7 333.0 Z" fill="#111"/>
<line x1="800.0" y1="196.9" x2="800.0" y2="220.3" stroke="#111" stroke-width="2.3"/><path d="M795.9 219.3 L804.1 219.3 L800.0 227.7 Z" fill="#111"/>
<line x1="95.2" y1="574.5" x2="95.2" y2="596.8" stroke="#111" stroke-width="2.3"/><path d="M91.0 595.8 L99.4 595.8 L95.2 604.2 Z" fill="#111"/>
<line x1="137.3" y1="631.8" x2="137.3" y2="654.5" stroke="#111" stroke-width="2.3"/><path d="M133.2 653.5 L141.5 653.5 L137.3 661.9 Z" fill="#111"/>
<line x1="184.7" y1="592.5" x2="184.7" y2="604.7" stroke="#111" stroke-width="2.1"/><path d="M181.0 603.7 L188.4 603.7 L184.7 611.5 Z" fill="#111"/>
<line x1="230.9" y1="548.2" x2="230.9" y2="571.4" stroke="#111" stroke-width="2.3"/><path d="M226.8 570.4 L235.1 570.4 L230.9 578.8 Z" fill="#111"/>
<line x1="306.4" y1="631.2" x2="306.4" y2="654.5" stroke="#111" stroke-width="2.3"/><path d="M302.2 653.5 L310.5 653.5 L306.4 661.9 Z" fill="#111"/>
<line x1="379.7" y1="790.0" x2="379.7" y2="812.7" stroke="#111" stroke-width="2.3"/><path d="M375.6 811.7 L383.8 811.7 L379.7 820.1 Z" fill="#111"/>
<line x1="540.0" y1="719.5" x2="540.0" y2="742.5" stroke="#111" stroke-width="2.3"/><path d="M535.9 741.5 L544.1 741.5 L540.0 749.9 Z" fill="#111"/>
<line x1="590.0" y1="648.9" x2="590.0" y2="671.6" stroke="#111" stroke-width="2.3"/><path d="M585.9 670.6 L594.1 670.6 L590.0 679.0 Z" fill="#111"/>
<line x1="628.4" y1="721.1" x2="628.4" y2="744.3" stroke="#111" stroke-width="2.3"/><path d="M624.2 743.3 L632.5 743.3 L628.4 751.7 Z" fill="#111"/>
<line x1="651.8" y1="809.0" x2="651.8" y2="832.3" stroke="#111" stroke-width="2.3"/><path d="M647.6 831.3 L655.9 831.3 L651.8 839.7 Z" fill="#111"/>
<line x1="723.8" y1="603.3" x2="723.8" y2="626.5" stroke="#111" stroke-width="2.3"/><path d="M719.6 625.5 L727.9 625.5 L723.8 633.9 Z" fill="#111"/>
<line x1="791.0" y1="529.3" x2="791.0" y2="551.7" stroke="#111" stroke-width="2.3"/><path d="M786.9 550.7 L795.1 550.7 L791.0 559.1 Z" fill="#111"/>
<text transform="translate(1.8 17.7) scale(1.05 1)" font-size="21.3">(a)</text>
<text transform="translate(1.8 519.7) scale(1.05 1)" font-size="21.3">(b)</text>
<text transform="translate(15.2 229.8) rotate(-90) scale(1.057 1)" font-size="15.8" stroke="#161616" stroke-width="0.5" text-anchor="middle">Rumen pH (RpH)</text>
<text transform="translate(895.4 220.3) rotate(-90) scale(1.040 1)" font-size="15.8" stroke="#161616" stroke-width="0.5" text-anchor="middle">Feed intake (DM basis; kg)</text>
<text transform="translate(15.4 727.3) rotate(-90) scale(1.070 1)" font-size="15.8" stroke="#161616" stroke-width="0.5" text-anchor="middle">Rumen temperature (RT;°C)</text>
<text transform="translate(883.4 721.2) rotate(-90) scale(1.055 1)" font-size="15.8" stroke="#161616" stroke-width="0.5" text-anchor="middle">Feed intake (DM basis; kg)</text>
<text transform="translate(459.5 994.3) scale(1.052 1)" font-size="15.8" stroke="#161616" stroke-width="0.6" text-anchor="middle">Time of day (hh:min)</text>
<text transform="translate(455.6 46.2) scale(1.066 1)" font-size="15.7" stroke="#161616" stroke-width="0.75">Knots chosen for RFI groups (t; hh:mm):</text>
<text transform="translate(455.6 78.5) scale(1.066 1)" font-size="15.7" stroke="#161616" stroke-width="0.75">Inefficient</text><text transform="translate(542.0 78.8) scale(1.066 1)" font-size="15.7" stroke="#161616" stroke-width="0.75">Efficient</text>
<text transform="translate(455.6 97.5) scale(1.066 1)" font-size="15.7" stroke="#161616" stroke-width="0.75">C1=01:40</text><text transform="translate(542.0 97.8) scale(1.066 1)" font-size="15.7" stroke="#161616" stroke-width="0.75">C1=02:10</text>
<text transform="translate(455.6 116.4) scale(1.066 1)" font-size="15.7" stroke="#161616" stroke-width="0.75">C2=05:00</text><text transform="translate(542.0 116.7) scale(1.066 1)" font-size="15.7" stroke="#161616" stroke-width="0.75">C2=05:45</text>
<text transform="translate(455.6 135.3) scale(1.066 1)" font-size="15.7" stroke="#161616" stroke-width="0.75">C3=09:55</text><text transform="translate(542.0 135.7) scale(1.066 1)" font-size="15.7" stroke="#161616" stroke-width="0.75">C3=09:30</text>
<text transform="translate(455.6 154.3) scale(1.066 1)" font-size="15.7" stroke="#161616" stroke-width="0.75">C4=17:10</text><text transform="translate(542.0 154.6) scale(1.066 1)" font-size="15.7" stroke="#161616" stroke-width="0.75">C4=17:10</text>
<text transform="translate(455.6 173.2) scale(1.066 1)" font-size="15.7" stroke="#161616" stroke-width="0.75">C5=18:50</text><text transform="translate(542.0 173.6) scale(1.066 1)" font-size="15.7" stroke="#161616" stroke-width="0.75">C5=18:50</text>
<text transform="translate(402.0 531.6) scale(1.066 1)" font-size="15.7" stroke="#161616" stroke-width="0.75">Knots chosen for RFI groups:</text>
<text transform="translate(402.0 562.8) scale(1.066 1)" font-size="15.7" stroke="#161616" stroke-width="0.75">Inefficient</text><text transform="translate(490.6 564.0) scale(1.066 1)" font-size="15.7" stroke="#161616" stroke-width="0.75">Efficient</text>
<text transform="translate(402.0 581.9) scale(1.066 1)" font-size="15.7" stroke="#161616" stroke-width="0.75">C1=03:20</text><text transform="translate(490.6 583.1) scale(1.066 1)" font-size="15.7" stroke="#161616" stroke-width="0.75">C1=03:20</text>
<text transform="translate(402.0 601.0) scale(1.066 1)" font-size="15.7" stroke="#161616" stroke-width="0.75">C2=08:00</text><text transform="translate(490.6 602.2) scale(1.066 1)" font-size="15.7" stroke="#161616" stroke-width="0.75">C2=08:00</text>
<text transform="translate(402.0 620.1) scale(1.066 1)" font-size="15.7" stroke="#161616" stroke-width="0.75">C3=11:00</text><text transform="translate(490.6 621.3) scale(1.066 1)" font-size="15.7" stroke="#161616" stroke-width="0.75">C3=11:20</text>
<text transform="translate(402.0 639.2) scale(1.066 1)" font-size="15.7" stroke="#161616" stroke-width="0.75">C4=12:12</text><text transform="translate(490.6 640.4) scale(1.066 1)" font-size="15.7" stroke="#161616" stroke-width="0.75">C4=13:00</text>
<text transform="translate(402.0 658.3) scale(1.066 1)" font-size="15.7" stroke="#161616" stroke-width="0.75">C5=15:50</text><text transform="translate(490.6 659.5) scale(1.066 1)" font-size="15.7" stroke="#161616" stroke-width="0.75">C5=15:50</text>
<text transform="translate(402.0 677.4) scale(1.066 1)" font-size="15.7" stroke="#161616" stroke-width="0.75">C6=18:20</text><text transform="translate(490.6 678.6) scale(1.066 1)" font-size="15.7" stroke="#161616" stroke-width="0.75">C6=17:55</text>
<text transform="translate(402.0 696.5) scale(1.066 1)" font-size="15.7" stroke="#161616" stroke-width="0.75">C7=19:40</text><text transform="translate(490.6 697.7) scale(1.066 1)" font-size="15.7" stroke="#161616" stroke-width="0.75">C7=19:40</text>
<path d="M134.8 734.3 H169" fill="none" stroke="#111" stroke-width="3.0" stroke-dasharray="0.01 6.4" stroke-linecap="round"/>
<path d="M133.3 757.1 H170.2" stroke="#111" stroke-width="3.4"/>
<path d="M133.3 779.7 H157.6 M168.6 779.7 H170.4" stroke="#111" stroke-width="3.8"/>
<text transform="translate(173.6 739.5) scale(1.066 1)" font-size="15.7" stroke="#161616" stroke-width="0.75">Inefficient</text>
<text transform="translate(173.6 762.1) scale(1.066 1)" font-size="15.7" stroke="#161616" stroke-width="0.75">Efficient</text>
<text transform="translate(173.6 785.4) scale(1.066 1)" font-size="15.7" stroke="#161616" stroke-width="0.75">Feed Intake</text>
</g></svg>
</body></html>
